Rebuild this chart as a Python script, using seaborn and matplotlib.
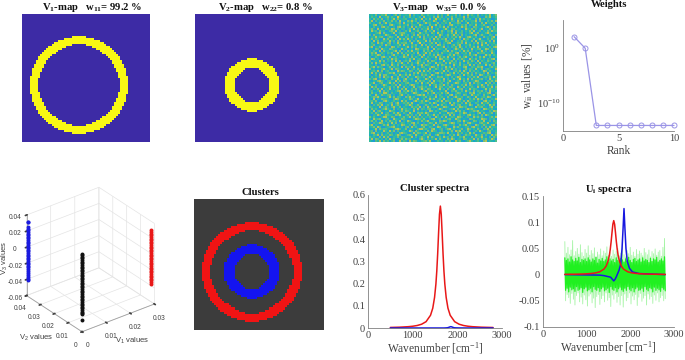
import numpy as np
import pandas as pd
import matplotlib
matplotlib.use('Agg')
import matplotlib.pyplot as plt
from matplotlib.colors import ListedColormap, LinearSegmentedColormap
import seaborn as sns

# ring shapes, half widths per row going out from the ring centre (map cells)
big_outer = [24, 24, 24, 24, 24, 23, 23, 23, 23, 22, 22, 21, 21, 20, 20, 19, 18, 17, 16, 15, 13, 12, 10, 7, 3]
big_inner = [20, 20, 20, 20, 19, 19, 19, 18, 18, 17, 17, 16, 16, 15, 14, 13, 11, 10, 8, 6, 3]
small_outer = [13, 13, 13, 13, 13, 12, 12, 11, 11, 10, 8, 7, 5, 2]
small_inner = [8, 8, 8, 8, 7, 6, 5, 4, 3]
map_size = 64
ring_row = 35
ring_col = 28

v3_rows = [
    "4537246583415726345481634275364451736248354726153846427153648257",
    "3645182457364295163473524618345273846153472635481724536412758346",
    "5274637146258374456215374482637159463527184365274563172846354125",
    "4816354725473618342758461537245386142754365184726345581743264738",
    "6352471583642457183546237415856324715463824576134825463172845361",
    "3478256341785246354716542863317458263514784253647165382457314625",
    "4263517846325178462538174635472915364827153624857341764253685174",
    "5741834265487362551473826164583724613584276345128547362581437265",
    "3856274513674825146382457315726481537426581743625374814625374856",
    "4325681743258146774235614853641752846315473825614368257143685243",
    "6174352486413725853614728546273351486247358461725243681574326517",
    "2548467315764283416527345817354628471536264738514785362417453682",
    "4736521847352618473845162437516284736581547326185634725841263754",
    "5283714653846174255172638544827163542476381254736427183565347182",
    "3641857426715384667348215936145738261547823465718352648174825463",
    "4572346185623457184526473182736451873624157368245473516284371546",
    "6815473254187264335817462553482716345815264738516264738155426378",
    "3427618543764512846235187446571283654372415863742518346724873615",
    "5364281745346827151748356227364815423658174526384736152483615742",
    "4758136426571483726453628145837254617443652781546283417566342851",
    "2645873514268351473826415738146372865125748364155374682413857364",
    "5136427853714625486517364285263548174738265147368426153748426135",
    "4873516246385741325374825614745136287456318264753185472635164782",
    "6245384715462837156483147635382764153824573615284637518264375416",
    "3718462553174265841726358447156328465173846527341754263815642573",
    "5426137846285371465347216583764152837642518437265483716542837164",
    "4683755124736452817562834176245873615384726154378216547683125746",
    "7351426843581764243815627435618247536175483625147365283471564238",
    "3564817256243185763476154828375461254827315647285174635248736415",
    "4827365145768254136251748364526137847351648263745826174536182547",
    "5146283774315628547483625175743862514268735416283647251874365126",
    "2635471856482371651724386546158243767345162587431563748215647385",
    "6478152364175483268356217434862715453816247359462817354672518436",
    "3254786415632847176415382756247183564725831465173624587341265748",
    "4581367245847162536743156282573864156147325874256381746523847162",
    "7326415863254718445268734163418257365836174253648175236485174635",
    "3857142645736284173514825674635148276254763185273546418367254817",
    "5164738254815362748236471585276341584617358246715284653124837546",
    "4623581746342578165847263136845724153482165743628451736572618453",
    "2745163885163427546315874254172683547368241576345176824635478126",
    "6318427546725136841642357868354517264153782645176238546417352684",
    "3576842135847265317584613245726348156427316854623751483256487315",
    "4281537664316874253476258136148572463815462378514264738571623548",
    "5647213785246351847231685474863125748276543186372855416327846153",
    "3825476143571682465748312565327486135641827453618472365184573264",
    "4163758246382574136586247314752613847352486167245386127546238571",
    "6534281574168437254317564826184567324875132648756134285673416825",
    "2746315685427153846452738165367241586143568273415867532418754632",
    "5381674243865214737643815242518736425672143857362145768354216487",
    "4627538156137485264185327674863154273428675316487253416827345716",
    "3154862476542768315746163825274583614653827146352784635172864325",
    "7463215884376125473582746163546128537281465387514632857463125748",
    "4285673156218543764213587647315782461546732865243176524387615462",
    "5736148263754628153864125374682354176873514267385413762548236175",
    "3164587426383714652547836215147628365214687354162785431675482346",
    "6825314758146253874361752486753481624785346127468352186347524781",
    "4573862145678342516728463157236514873463128574235617845261738455",
    "2348175664215786347154326885641783256157846235714863527416583624",
    "5617243853847162453486175324273865146325471868352741463852167345",
    "4782536146351427865213847645816324577648253174625384712346578126",
    "3265817454763586124675284316457136842513647285147562385471623857",
    "6453172847125473654348162574382751463856174326583417264583416275",
    "4827635163846215737562431685163548274327586145276354817265734861",
    "5316482746257138465184763256748213645164723857314685246317825436",
]

# weights panel
rank = [1, 2, 3, 4, 5, 6, 7, 8, 9, 10]
weights = [99.2, 0.8, 1e-14, 1e-14, 1e-14, 1e-14, 1e-14, 1e-14, 1e-14, 1e-14]

# spectra
wn_red = [500, 700, 900, 1000, 1100, 1200, 1300, 1400, 1450, 1490, 1520, 1540, 1560, 1580, 1600, 1620,
          1640, 1660, 1680, 1700, 1720, 1750, 1790, 1840, 1940, 2040, 2140, 2240, 2340, 2540, 2800]
cluster_red = [.0025, .0036, .0059, .0079, .0112, .0170, .0286, .0575, .0895, .138, .198, .257, .335, .428, .513, .55,
               .513, .428, .335, .257, .198, .138, .0895, .0575, .0286, .0170, .0112, .0079, .0059, .0036, .0022]
ui_red = [.0005, .0007, .0011, .0015, .0021, .0032, .0054, .0108, .0168, .0258, .0371, .0481, .0627, .0801, .0961, .103,
          .0961, .0801, .0627, .0481, .0371, .0258, .0168, .0108, .0054, .0032, .0021, .0015, .0011, .0007, .0004]
wn_blue = [500, 900, 1300, 1400, 1550, 1590, 1620, 1650, 1680, 1700, 1740, 1780, 1810, 1835, 1855, 1875,
           1900, 1930, 1980, 2050, 2200, 2500, 2800]
cluster_blue = [0, 0, 0, 0, 0, 0, 0, 0, 0, 0, .0004, .001, .003, .005, .006, .005,
                .003, .001, .0005, .0002, 0, 0, 0]
ui_blue = [0, -.0005, -.001, -.002, -.005, -.009, -.012, -.009, -.004, 0, .008, .02, .05, .09, .126, .09,
           .05, .025, .012, .005, .002, .001, 0]

fringe_hi = [.063, .041, .052, .038, .047, .065, .036, .044, .05, .039, .057, .042, .035,
             .048, .041, .055, .037, .046, .04, .051, .034, .043, .038, .049, .036, .045,
             .041, .053, .037, .042, .035, .047, .039, .044, .05, .036, .041, .056, .038,
             .034, .046, .04, .052, .037, .043, .035, .048, .039, .045, .041, .036, .05,
             .042, .038, .047, .034, .044, .04, .049, .037, .043, .046, .035, .052, .069]
fringe_lo = [-.05, -.038, -.044, -.055, -.036, -.047, -.058, -.04, -.035, -.052, -.043, -.056, -.039,
             -.048, -.06, -.041, -.037, -.054, -.045, -.063, -.042, -.038, -.057, -.046, -.04, -.052,
             -.035, -.049, -.044, -.061, -.039, -.047, -.036, -.053, -.042, -.058, -.04, -.062, -.037,
             -.05, -.044, -.035, -.056, -.041, -.048, -.038, -.059, -.043, -.036, -.051, -.045, -.04,
             -.058, -.037, -.047, -.042, -.055, -.039, -.049, -.035, -.052, -.044, -.04, -.05, -.046]
core_hi = [.032, .027, .03, .024, .034, .028, .025, .031, .026, .033, .023, .029, .027,
           .03, .025, .032, .028, .024, .03, .027, .033, .022, .029, .026, .031, .025,
           .028, .034, .024, .03, .026, .029, .023, .032, .027, .025, .031, .028, .024,
           .03, .026, .033, .027, .023, .029, .031, .025, .028, .03, .024, .032, .026,
           .029, .027, .023, .031, .025, .03, .028, .033, .024, .027, .03, .026, .034]
core_lo = [-.03, -.026, -.033, -.024, -.029, -.027, -.032, -.023, -.03, -.028, -.025, -.034, -.027,
           -.024, -.031, -.029, -.026, -.033, -.023, -.028, -.03, -.025, -.032, -.027, -.024, -.031,
           -.029, -.026, -.034, -.023, -.028, -.03, -.025, -.033, -.027, -.024, -.029, -.032, -.026,
           -.03, -.023, -.028, -.031, -.025, -.033, -.027, -.024, -.03, -.029, -.026, -.032, -.023,
           -.028, -.031, -.025, -.027, -.033, -.024, -.03, -.026, -.029, -.032, -.025, -.028, -.031]

# 3d scatter, one vertical streak per cluster
blue_v1 = 0.0
blue_v2 = 0.039
blue_v3 = [.033, .032, .026, .024, .022, .02, .018, .016, .014, .012, .01, .008, .006, .004, .002, 0, -.002, -.004,
           -.006, -.008, -.01, -.012, -.014, -.016, -.018, -.02, -.022, -.024, -.026, -.028, -.031, -.033, -.036,
           -.038, -.039]
black_v1 = 0.0
black_v2 = 0.0
black_v3 = [.037, .035, .033, .031, .029, .027, .025, .023, .021, .019, .017, .015, .013, .011, .009, .007, .005,
            .003, .001, -.001, -.003, -.005, -.007, -.009, -.011, -.013, -.015, -.017, -.019, -.021, -.023, -.025,
            -.027, -.029, -.031, -.033, -.035, -.037, -.038, -.046]
red_v1 = 0.0285
red_v2 = 0.0
red_v3 = [.033, .031, .029, .027, .025, .023, .021, .019, .017, .015, .013, .011, .009, .007, .005, .003, .001,
          -.001, -.003, -.005, -.007, -.009, -.011, -.013, -.015, -.017, -.019, -.021, -.023, -.025, -.027, -.029,
          -.031, -.033]

W, H = 685, 360


def box(x0, y0, x1, y1):
    return [x0 / W, 1 - y1 / H, (x1 - x0) / W, (y1 - y0) / H]


def ring_mask(outer, inner):
    mask = np.zeros((map_size, map_size), dtype=bool)
    for k, half in enumerate(outer):
        hole = inner[k] if k < len(inner) else 0
        for row in (ring_row - k, ring_row + k):
            if 0 <= row < map_size:
                mask[row, ring_col - half:ring_col + half + 1] = True
                if hole > 0:
                    mask[row, ring_col - hole:ring_col + hole + 1] = False
    return mask


def style_line_axes(ax):
    sns.despine(ax=ax)
    for side in ['left', 'bottom']:
        ax.spines[side].set_color('#808080')
        ax.spines[side].set_linewidth(0.6)
    ax.tick_params(colors='#404040', labelsize=7.5, length=0, pad=2)


sns.set_theme(style='white')
plt.rcParams['font.family'] = ['Liberation Serif', 'DejaVu Sans']
plt.rcParams['mathtext.fontset'] = 'custom'
plt.rcParams['mathtext.rm'] = 'Liberation Serif'
plt.rcParams['mathtext.bf'] = 'Liberation Serif:bold'
plt.rcParams['mathtext.default'] = 'regular'

fig = plt.figure(figsize=(6.85, 3.6), dpi=100)
title_kw = dict(fontsize=7.7, fontweight='bold', color='#111111')
label_kw = dict(fontsize=8.3, color='#404040')

parula_ends = ListedColormap(['#3d2ba5', '#f8f814'])
titles = [r'V$\mathbf{_1}$-map   w$\mathbf{_{11}}$= 99.2 %', r'V$\mathbf{_2}$-map   w$\mathbf{_{22}}$= 0.8 %']
masks = [ring_mask(big_outer, big_inner), ring_mask(small_outer, small_inner)]
for pos, title, mask in zip([(22, 14, 150, 142), (195, 14, 323, 142)], titles, masks):
    ax = fig.add_axes(box(*pos))
    sns.heatmap(mask.astype(int), ax=ax, cmap=parula_ends, cbar=False, xticklabels=False, yticklabels=False,
                vmin=0, vmax=1)
    ax.set_title(title, pad=2.5, x=0.55, **title_kw)

ax = fig.add_axes(box(369, 14, 497, 142))
noise_map = np.array([[int(c) for c in row] for row in v3_rows])
noise_cmap = LinearSegmentedColormap.from_list(
    'v3', ['#2398d8', '#19a8c8', '#1eb0b8', '#2cb8a4', '#44bc90', '#6cc078', '#a8c45c', '#e0c838'])
sns.heatmap(noise_map, ax=ax, cmap=noise_cmap, cbar=False, xticklabels=False, yticklabels=False, vmin=1, vmax=9)
ax.set_title(r'V$\mathbf{_3}$-map   w$\mathbf{_{33}}$= 0.0 %', pad=2.5, x=0.55, **title_kw)

# weights
ax = fig.add_axes(box(563, 20, 674, 131))
df_w = pd.DataFrame({'rank': rank, 'weight': weights})
sns.lineplot(data=df_w, x='rank', y='weight', ax=ax, color='#9a94e6', lw=0.9, marker='o', ms=3.6,
             mfc='none', mec='#9a94e6', mew=0.7, clip_on=False)
ax.set_yscale('log')
ax.set_xlim(0, 10)
ax.set_ylim(1e-15, 1e5)
ax.set_xticks([0, 5, 10])
ax.set_yticks([1e0, 1e-10])
ax.minorticks_off()
style_line_axes(ax)
ax.set_xlabel('Rank', labelpad=1.5, **label_kw)
ax.set_ylabel(r'w$_{ii}$ values [%]', labelpad=1, **label_kw)
fig.text(609 / W, 1 - 7 / H, 'Weights', ha='center', va='baseline', **title_kw)

# clusters
ax = fig.add_axes(box(194, 199, 324, 330))
cluster_map = ring_mask(big_outer, big_inner).astype(int) + 2 * ring_mask(small_outer, small_inner).astype(int)
sns.heatmap(cluster_map, ax=ax, cmap=ListedColormap(['#3c3c3c', '#f01414', '#1414f0']), cbar=False,
            xticklabels=False, yticklabels=False, vmin=0, vmax=2)
ax.set_title('Clusters', pad=3, x=0.51, **title_kw)

# cluster spectra
ax = fig.add_axes(box(368, 195, 502, 328))
sns.lineplot(x=wn_red, y=cluster_red, ax=ax, color='#e81818', lw=1.1, clip_on=False)
sns.lineplot(x=wn_blue, y=cluster_blue, ax=ax, color='#1818e0', lw=1.1, clip_on=False)
ax.set_xlim(0, 3000)
ax.set_ylim(0, 0.6)
ax.set_xticks([0, 1000, 2000, 3000])
ax.set_yticks([0, .1, .2, .3, .4, .5, .6], ['0', '0.1', '0.2', '0.3', '0.4', '0.5', '0.6'])
style_line_axes(ax)
ax.set_xlabel(r'Wavenumber [cm$^{-1}$]', labelpad=0.5, **label_kw)
ax.set_title('Cluster spectra', pad=3, **title_kw)

# Ui spectra
ax = fig.add_axes(box(543, 196, 674, 327))
fringe_y = np.column_stack([fringe_hi, fringe_lo]).ravel()
core_y = np.column_stack([core_hi, core_lo]).ravel()
sns.lineplot(x=np.linspace(500, 2800, len(fringe_y)), y=fringe_y, ax=ax, color='#a4f4a4', lw=0.6, sort=False)
sns.lineplot(x=np.linspace(500, 2800, len(core_y)), y=core_y, ax=ax, color='#20f020', lw=0.9, sort=False)
sns.lineplot(x=wn_blue, y=ui_blue, ax=ax, color='#1818e0', lw=1.1)
sns.lineplot(x=wn_red, y=ui_red, ax=ax, color='#e81818', lw=1.1)
ax.set_xlim(0, 3000)
ax.set_ylim(-0.1, 0.15)
ax.set_xticks([0, 1000, 2000, 3000])
ax.set_yticks([-.1, -.05, 0, .05, .1, .15], ['-0.1', '-0.05', '0', '0.05', '0.1', '0.15'])
style_line_axes(ax)
ax.set_xlabel(r'Wavenumber [cm$^{-1}$]', labelpad=0.5, **label_kw)
ax.set_title(r'U$\mathbf{_i}$ spectra', pad=3, **title_kw)

# 3d panel
ax = fig.add_axes(box(15, 188, 162, 335), projection='3d')
ax.set_proj_type('ortho')
ax.view_init(elev=30, azim=-127.5)
ax.set_box_aspect((1, 1, 1.02), zoom=1.05)
ax.patch.set_alpha(0)
for v1, v2, v3, color in [(blue_v1, blue_v2, blue_v3, '#1a1ae0'), (black_v1, black_v2, black_v3, '#111111'),
                          (red_v1, red_v2, red_v3, '#e81818')]:
    ax.scatter([v1] * len(v3), [v2] * len(v3), v3, color=color, s=8, linewidths=0, depthshade=False, snap=False)
ax.set_xlim(0, 0.03)
ax.set_ylim(0, 0.04)
ax.set_zlim(-0.06, 0.04)
ax.set_xticks([0, .01, .02, .03], ['0', '0.01', '0.02', '0.03'])
ax.set_yticks([0, .01, .02, .03, .04], ['0', '0.01', '0.02', '0.03', '0.04'])
ax.set_zticks([-.06, -.04, -.02, 0, .02, .04], ['-0.06', '-0.04', '-0.02', '0', '0.02', '0.04'])
for axis in [ax.xaxis, ax.yaxis, ax.zaxis]:
    axis.set_pane_color((1, 1, 1, 0))
    axis.pane.set_edgecolor('#e4e4e4')
    axis._axinfo['grid'].update(color='#e4e4e4', linewidth=0.5)
    axis.line.set_color('#a0a0a0')
    axis.line.set_linewidth(0.6)
ax.tick_params(labelsize=4.8, colors='#404040', pad=-3, length=0)
for lab in ax.get_xticklabels() + ax.get_yticklabels() + ax.get_zticklabels():
    lab.set_family('Liberation Sans')
label3d = dict(fontsize=5.5, family='Liberation Sans', color='#404040', ha='center', va='center')
fig.text(132 / W, 1 - 341 / H, r'V$_1$ values', **label3d)
fig.text(36 / W, 1 - 338 / H, r'V$_2$ values', **label3d)
fig.text(5 / W, 1 - 258 / H, r'V$_3$ values', rotation=90, **label3d)

fig.savefig('out.png', dpi=100)
